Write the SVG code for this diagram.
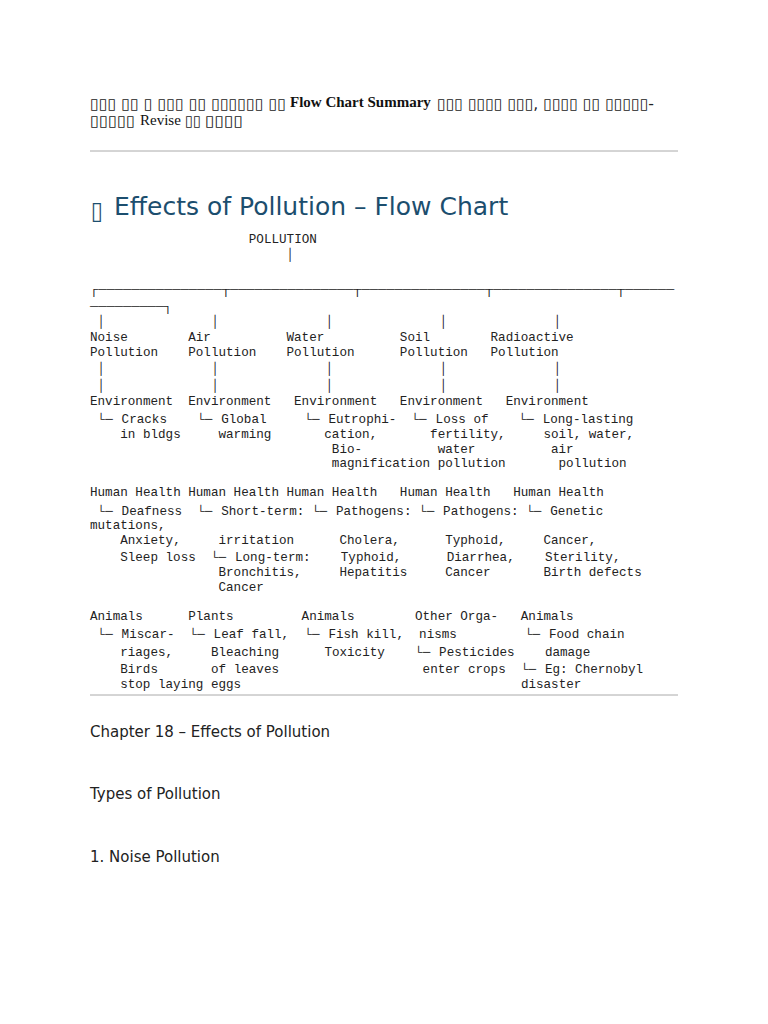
<svg xmlns="http://www.w3.org/2000/svg" width="768" height="1024" viewBox="0 0 768 1024">
<style>
.intro{font-family:"Liberation Serif",serif;font-size:15px;fill:#111}
.tofu{font-family:"DejaVu Sans",sans-serif;font-size:15px;fill:#222}
.title{font-family:"DejaVu Sans",sans-serif;font-size:25px;fill:#1c4e6e}
.body{font-family:"DejaVu Sans",sans-serif;font-size:15px;fill:#222}
.mono{font-family:"Liberation Mono",monospace;font-size:12.6px;fill:#222;white-space:pre}
.rule{stroke:#aaa;stroke-width:1}
</style>
<rect width="768" height="1024" fill="#fff"/>
<g id="intro">
<text class="tofu" x="90" y="109" textLength="196" lengthAdjust="spacingAndGlyphs" xml:space="preserve">▯▯▯ ▯▯ ▯ ▯▯▯ ▯▯ ▯▯▯▯▯▯ ▯▯</text>
<text class="intro" x="290" y="107" font-weight="bold">Flow Chart Summary</text>
<text class="tofu" x="437" y="109" textLength="217" lengthAdjust="spacingAndGlyphs" xml:space="preserve">▯▯▯ ▯▯▯▯ ▯▯▯, ▯▯▯▯ ▯▯ ▯▯▯▯▯-</text>
<text class="tofu" x="90" y="126" textLength="45" lengthAdjust="spacingAndGlyphs">▯▯▯▯▯</text>
<text class="intro" x="140" y="125">Revise</text>
<text class="tofu" x="185" y="126" textLength="16" lengthAdjust="spacingAndGlyphs">▯▯</text>
<text class="tofu" x="205" y="126" textLength="38" lengthAdjust="spacingAndGlyphs">▯▯▯▯</text>
</g>
<line class="rule" x1="90" y1="151" x2="678" y2="151"/>
<g id="title">
<text class="title" x="91" y="219" font-size="29" textLength="12" lengthAdjust="spacingAndGlyphs">▯</text>
<text class="title" x="114" y="215">Effects of Pollution – Flow Chart</text>
</g>
<g id="connectors" class="mono">
<text x="286.6" y="258.4">│</text>
<text x="90" y="293.4" textLength="584.3" lengthAdjust="spacingAndGlyphs">┌───────────────┬───────────────┬───────────────┬───────────────┬──────</text>
<text x="90" y="310" textLength="82.3" lengthAdjust="spacingAndGlyphs">─────────┐</text>
<text y="325.4"><tspan x="97.6">│</tspan><tspan x="211.6">│</tspan><tspan x="325.7">│</tspan><tspan x="439.8">│</tspan><tspan x="553.8">│</tspan></text>
<text y="372.4"><tspan x="97.6">│</tspan><tspan x="211.6">│</tspan><tspan x="325.7">│</tspan><tspan x="439.8">│</tspan><tspan x="553.8">│</tspan></text>
<text y="389.4"><tspan x="97.6">│</tspan><tspan x="211.6">│</tspan><tspan x="325.7">│</tspan><tspan x="439.8">│</tspan><tspan x="553.8">│</tspan></text>
</g>
<g id="root" class="mono"><text x="248.8" y="242.5">POLLUTION</text></g>
<g id="types" class="mono">
<text x="90" y="341" xml:space="preserve">Noise        Air          Water          Soil        Radioactive</text>
<text x="90" y="356" xml:space="preserve">Pollution    Pollution    Pollution      Pollution   Pollution</text>
</g>
<g id="environment" class="mono">
<text x="90" y="405" xml:space="preserve">Environment  Environment   Environment   Environment   Environment</text>
<text y="423"><tspan x="97.6">└─</tspan><tspan x="121.6">Cracks</tspan><tspan x="197.2">└─</tspan><tspan x="221.2">Global</tspan><tspan x="304.4">└─</tspan><tspan x="328.4">Eutrophi-</tspan><tspan x="411.5">└─</tspan><tspan x="435.6" xml:space="preserve">Loss of</tspan><tspan x="518.7">└─</tspan><tspan x="542.7">Long-lasting</tspan></text>
<text x="90" y="438" xml:space="preserve">    in bldgs     warming       cation,       fertility,     soil, water,</text>
<text x="90" y="453" xml:space="preserve">                                Bio-          water          air</text>
<text x="90" y="467" xml:space="preserve">                                magnification pollution       pollution</text>
</g>
<g id="human-health" class="mono">
<text x="90" y="496" xml:space="preserve">Human Health Human Health Human Health   Human Health   Human Health</text>
<text y="515"><tspan x="97.6">└─</tspan><tspan x="121.6">Deafness</tspan><tspan x="197.2">└─</tspan><tspan x="221.2">Short-term:</tspan><tspan x="311.9">└─</tspan><tspan x="335.9">Pathogens:</tspan><tspan x="419.1">└─</tspan><tspan x="443.1">Pathogens:</tspan><tspan x="526.3">└─</tspan><tspan x="550.3">Genetic</tspan></text>
<text x="90" y="529">mutations,</text>
<text x="90" y="544" xml:space="preserve">    Anxiety,     irritation      Cholera,      Typhoid,     Cancer,</text>
<text y="561"><tspan x="120.2" xml:space="preserve">Sleep loss</tspan><tspan x="211">└─</tspan><tspan x="235">Long-term:</tspan><tspan x="340.8">Typhoid,</tspan><tspan x="446.7">Diarrhea,</tspan><tspan x="544.9">Sterility,</tspan></text>
<text x="90" y="576" xml:space="preserve">                 Bronchitis,     Hepatitis     Cancer       Birth defects</text>
<text x="90" y="591" xml:space="preserve">                 Cancer</text>
</g>
<g id="organisms" class="mono">
<text x="90" y="620" xml:space="preserve">Animals      Plants         Animals        Other Orga-   Animals</text>
<text y="638"><tspan x="97.6">└─</tspan><tspan x="121.6">Miscar-</tspan><tspan x="189.6">└─</tspan><tspan x="213.6" xml:space="preserve">Leaf fall,</tspan><tspan x="304.4">└─</tspan><tspan x="328.4" xml:space="preserve">Fish kill,</tspan><tspan x="419.1">nisms</tspan><tspan x="524.9">└─</tspan><tspan x="549" xml:space="preserve">Food chain</tspan></text>
<text y="656"><tspan x="120.2">riages,</tspan><tspan x="211">Bleaching</tspan><tspan x="324.4">Toxicity</tspan><tspan x="415.1">└─</tspan><tspan x="439.1">Pesticides</tspan><tspan x="544.9">damage</tspan></text>
<text y="673"><tspan x="120.2">Birds</tspan><tspan x="211" xml:space="preserve">of leaves</tspan><tspan x="422.6" xml:space="preserve">enter crops</tspan><tspan x="520.9">└─</tspan><tspan x="544.9" xml:space="preserve">Eg: Chernobyl</tspan></text>
<text y="688"><tspan x="120.2" xml:space="preserve">stop laying eggs</tspan><tspan x="520.9">disaster</tspan></text>
</g>
<line class="rule" x1="90" y1="695" x2="678" y2="695"/>
<g id="sections">
<text class="body" x="90" y="737">Chapter 18 – Effects of Pollution</text>
<text class="body" x="90" y="799">Types of Pollution</text>
<text class="body" x="90" y="862">1. Noise Pollution</text>
</g>
</svg>
